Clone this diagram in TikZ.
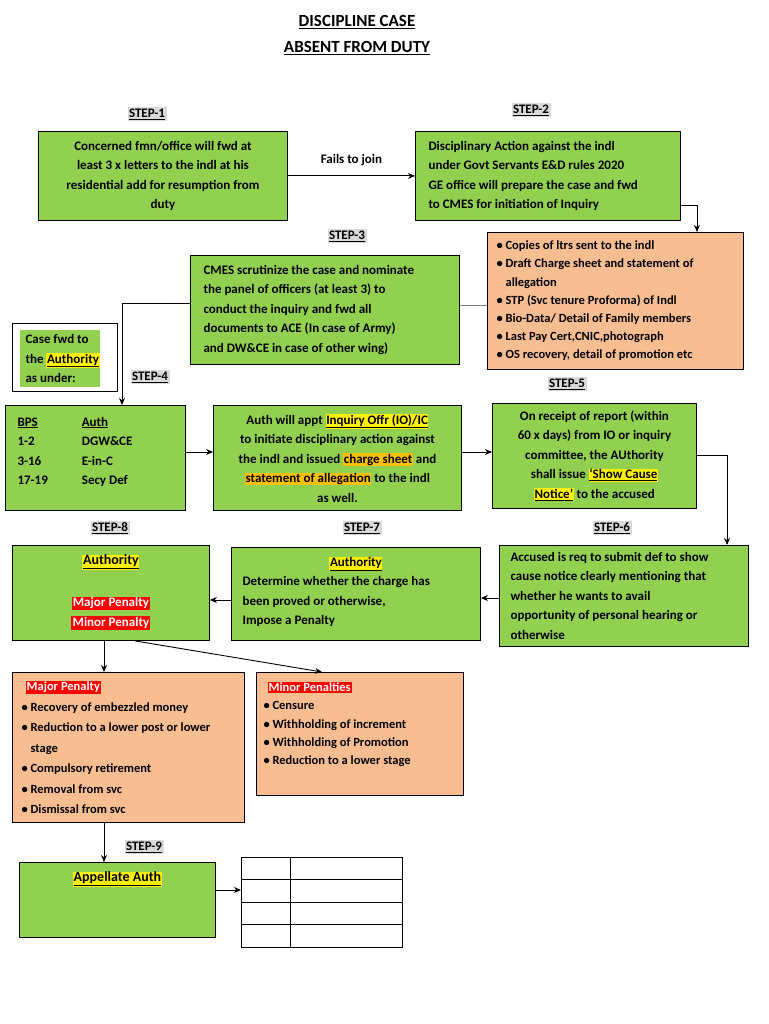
\documentclass[tikz,border=0pt]{standalone}
\usepackage{fontspec}
\setmainfont{Carlito}
\usetikzlibrary{positioning,arrows.meta}
\definecolor{boxgreen}{RGB}{146,208,80}
\definecolor{boxorange}{RGB}{248,190,145}
\definecolor{steggray}{RGB}{217,217,217}
\definecolor{hlorange}{RGB}{255,192,0}
\newcommand{\hly}[1]{{\setlength{\fboxsep}{0.6pt}\colorbox{yellow}{#1}}}
\newcommand{\hlo}[1]{{\setlength{\fboxsep}{0.6pt}\colorbox{hlorange}{#1}}}
\newcommand{\hlr}[1]{{\setlength{\fboxsep}{1.2pt}\colorbox{red}{\color{white}#1}}}
\newcommand{\itm}{\textbullet\ }
\tikzset{
  box/.style={draw, line width=0.9pt, fill=boxgreen, anchor=north west, inner sep=0pt},
  obox/.style={box, fill=boxorange},
  steplbl/.style={fill=steggray, inner sep=1.5pt, font=\bfseries\fontsize{13}{15}\selectfont},
  txt/.style={font=\bfseries\fontsize{13}{19.5}\selectfont},
  arr/.style={-{Stealth[length=7pt,width=6pt]}, line width=0.9pt},
}
\begin{document}
\begin{tikzpicture}[x=1pt,y=-1pt]
\useasboundingbox (0,0) rectangle (768,1024);

% title
\node[font=\bfseries\fontsize{17}{26}\selectfont, align=center] (title) at (357,35)
  {\underline{DISCIPLINE CASE}\\\underline{ABSENT FROM DUTY}};

% step labels
\node[steplbl] (s1) at (147,114) {\underline{STEP-1}};
\node[steplbl] (s2) at (531,110) {\underline{STEP-2}};
\node[steplbl] (s3) at (347,236) {\underline{STEP-3}};
\node[steplbl] (s4) at (150,377) {\underline{STEP-4}};
\node[steplbl] (s5) at (567,384) {\underline{STEP-5}};
\node[steplbl] (s6) at (612,528) {\underline{STEP-6}};
\node[steplbl] (s7) at (362,528) {\underline{STEP-7}};
\node[steplbl] (s8) at (110,528) {\underline{STEP-8}};
\node[steplbl] (s9) at (144,847) {\underline{STEP-9}};

% boxes
\node[box, minimum width=249, minimum height=89] (b1) at (38,131) {};
\node[txt, align=center] at (b1.center) {Concerned fmn/office will fwd at\\least 3 x letters to the indl at his\\residential add for resumption from\\duty};

\node[box, minimum width=265, minimum height=89] (b2) at (415,131) {};
\node[txt, align=left, anchor=west] at ([xshift=10]b2.west) {Disciplinary Action against the indl\\under Govt Servants E\&D rules 2020\\GE office will prepare the case and fwd\\to CMES for initiation of Inquiry};

\node[obox, minimum width=256, minimum height=137] (docs) at (487,232) {};
\node[txt, align=left, anchor=west, font=\bfseries\fontsize{12.5}{18.2}\selectfont] at ([xshift=6]docs.west)
  {\itm Copies of ltrs sent to the indl\\\itm Draft Charge sheet and statement of\\\phantom{\itm}allegation\\\itm STP (Svc tenure Proforma) of Indl\\\itm Bio-Data/ Detail of Family members\\\itm Last Pay Cert,CNIC,photograph\\\itm OS recovery, detail of promotion etc};

\node[box, minimum width=269, minimum height=109] (b3) at (190,255) {};
\node[txt, align=left, anchor=west] at ([xshift=10]b3.west) {CMES scrutinize the case and nominate\\the panel of officers (at least 3) to\\conduct the inquiry and fwd all\\documents to ACE (In case of Army)\\and DW\&CE in case of other wing)};

\node[draw, line width=0.9pt, anchor=north west, minimum width=105, minimum height=68, inner sep=0pt] (fwd) at (12,323) {};
\node[fill=boxgreen, anchor=north west, minimum width=80, minimum height=57, inner sep=0pt] (fwdin) at (20,330) {};
\node[txt, align=left, anchor=west] at ([xshift=2]fwdin.west) {Case fwd to\\the \hly{\underline{Authority}}\\as under:};

\node[box, minimum width=180, minimum height=105] (b4) at (5,405) {};
\node[txt, anchor=north west] at ([xshift=9,yshift=-4]b4.north west) {%
  \begin{tabular}{@{}l@{\hspace{34pt}}l@{}}\underline{BPS} & \underline{Auth}\\1-2 & DGW\&CE\\3-16 & E-in-C\\17-19 & Secy Def\end{tabular}};

\node[box, minimum width=248, minimum height=105] (b4b) at (213,405) {};
\node[txt, align=center] at (b4b.center) {Auth will appt \hly{\underline{Inquiry Offr (IO)/IC}}\\to initiate disciplinary action against\\the indl and issued \hlo{charge sheet} and\\\hlo{statement of allegation} to the indl\\as well.};

\node[box, minimum width=204, minimum height=105] (b5) at (492,403) {};
\node[txt, align=center] at (b5.center) {On receipt of report (within\\60 x days) from IO or inquiry\\committee, the AUthority\\shall issue \hly{\underline{‘Show Cause}}\\\hly{\underline{Notice’}} to the accused};

\node[box, minimum width=249, minimum height=101] (b6) at (499,545) {};
\node[txt, align=left, anchor=west] at ([xshift=8]b6.west) {Accused is req to submit def to show\\cause notice clearly mentioning that\\whether he wants to avail\\opportunity of personal hearing or\\otherwise};

\node[box, minimum width=249, minimum height=93] (b7) at (231,547) {};
\node[txt, anchor=north] at ([yshift=-6]b7.north) {\hly{\underline{Authority}}};
\node[txt, align=left, anchor=north west] at ([xshift=8,yshift=-26]b7.north west) {Determine whether the charge has\\been proved or otherwise,\\Impose a Penalty};

\node[box, minimum width=197, minimum height=95] (b8) at (12,545) {};
\node[txt, anchor=north, font=\bfseries\fontsize{14}{19}\selectfont] at ([yshift=-6]b8.north) {\hly{\underline{Authority}}};
\node[txt, align=center, anchor=north] at ([yshift=-48]b8.north) {\hlr{Major Penalty}\\\hlr{Minor Penalty}};

\node[obox, minimum width=232, minimum height=150] (major) at (12,672) {};
\node[txt, align=left, anchor=north west, font=\bfseries\fontsize{12.5}{20.5}\selectfont] at ([xshift=6,yshift=-5]major.north west)
  {\hspace{4pt}\hlr{Major Penalty}\\\itm Recovery of embezzled money\\\itm Reduction to a lower post or lower\\\phantom{\itm}stage\\\itm Compulsory retirement\\\itm Removal from svc\\\itm Dismissal from svc};

\node[obox, minimum width=207, minimum height=123] (minor) at (256,672) {};
\node[txt, align=left, anchor=north west, font=\bfseries\fontsize{12.5}{18.3}\selectfont] at ([xshift=4,yshift=-6]minor.north west)
  {\hspace{4pt}\hlr{Minor Penalties}\\\itm Censure\\\itm Withholding of  increment\\\itm Withholding of Promotion\\\itm Reduction to a lower stage};

\node[box, minimum width=196, minimum height=75] (b9) at (19,862) {};
\node[txt, anchor=north, font=\bfseries\fontsize{14}{19}\selectfont] at ([yshift=-6]b9.north) {\hly{\underline{Appellate Auth}}};

% empty table
\node[draw, line width=0.9pt, anchor=north west, minimum width=161, minimum height=90, inner sep=0pt] (tbl) at (241,857) {};
\foreach \k in {1,2,3} \draw[line width=0.9pt] ([yshift=-22.5*\k]tbl.north west) -- ([yshift=-22.5*\k]tbl.north east);
\draw[line width=0.9pt] ([xshift=49]tbl.north west) -- ([xshift=49]tbl.south west);

% connectors
\draw[arr] (b1.east) -- node[above=6pt, txt] {Fails to join} (b2.west |- b1.east);
\draw[arr] ([yshift=15]b2.south east) -| ([xshift=210]docs.north west);
\draw[line width=0.9pt, gray] (b3.east |- 0,305) -- (docs.west |- 0,305);
\draw[arr] (b3.west |- 0,303) -| ([xshift=117]b4.north west);
\draw[arr] (b4.east |- 0,452) -- (b4b.west |- 0,452);
\draw[arr] (b4b.east |- 0,452) -- (b5.west |- 0,452);
\draw[arr] (b5.east |- 0,455) -| ([xshift=228]b6.north west);
\draw[arr] (b6.west |- 0,598) -- (b7.east |- 0,598);
\draw[arr] (b7.west |- 0,600) -- (b8.east |- 0,600);
\draw[arr] ([xshift=92]b8.south west) -- ([xshift=92]major.north west);
\draw[arr] ([xshift=123]b8.south west) -- ([xshift=66]minor.north west);
\draw[arr] ([xshift=92]major.south west) -- ([xshift=85]b9.north west);
\draw[arr] (b9.east |- 0,890) -- (tbl.west |- 0,890);
\end{tikzpicture}
\end{document}
